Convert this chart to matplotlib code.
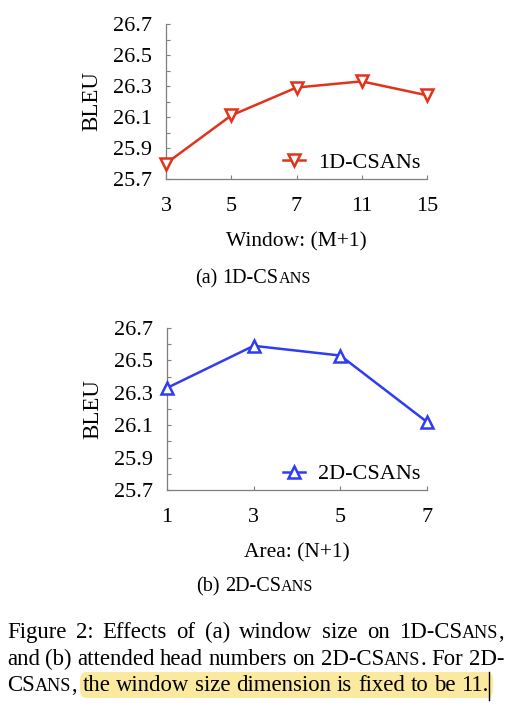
import matplotlib
matplotlib.use("Agg")
import matplotlib.pyplot as plt
from matplotlib.patches import FancyBboxPatch
from matplotlib.lines import Line2D

# ---- data ----
windows = ['3', '5', '7', '11', '15']
bleu_1d = [25.80, 26.11, 26.29, 26.33, 26.24]
areas = ['1', '3', '5', '7']
bleu_2d = [26.33, 26.59, 26.53, 26.12]
yticks = [25.7, 25.9, 26.1, 26.3, 26.5, 26.7]
minor_yticks = [25.8, 26.0, 26.2, 26.4, 26.6]

RED = '#E2321A'
BLUE = '#2E3CF4'
GRAY = '#7f7f7f'
SERIF = 'Liberation Serif'

plt.rcParams['font.family'] = SERIF

W, H = 513, 708
fig = plt.figure(figsize=(W / 100, H / 100), dpi=100)


def fx(px):
    return px / W


def fy(py):
    return 1 - py / H


def make_axes(rect_px, cats, vals, color, marker, label, xlabel):
    l, t, r, b = rect_px
    ax = fig.add_axes([fx(l), fy(b), (r - l) / W, (b - t) / H])
    x = list(range(len(cats)))
    ax.plot(x, vals, color=color, lw=1.8, marker=marker, ms=8.5,
            mfc='white', mec=color, mew=1.8, label=label, clip_on=False, zorder=5)
    ax.set_xlim(0, len(cats) - 1)
    ax.set_ylim(25.7, 26.7)
    ax.set_xticks(x)
    ax.set_xticklabels(cats)
    ax.set_yticks(yticks)
    ax.set_yticklabels([f'{v:.1f}' for v in yticks])
    ax.set_yticks(minor_yticks, minor=True)
    for s in ['top', 'right']:
        ax.spines[s].set_visible(False)
    for s in ['left', 'bottom']:
        ax.spines[s].set_color(GRAY)
        ax.spines[s].set_linewidth(0.9)
    ax.tick_params(axis='both', which='both', direction='in', color=GRAY,
                   width=0.8, labelsize=16)
    ax.tick_params(axis='y', which='major', length=3, pad=10)
    ax.tick_params(axis='y', which='minor', length=3)
    ax.tick_params(axis='x', which='major', length=3, pad=13)
    ax.set_ylabel('BLEU', fontsize=16.5, labelpad=8)
    ax.set_xlabel(xlabel, fontsize=15.5, labelpad=12)
    ax.legend(loc='lower right', frameon=False, fontsize=16, handlelength=1.0,
              handletextpad=0.6, borderaxespad=0.0, bbox_to_anchor=(1.01, -0.02))
    return ax


ax1 = make_axes((166, 24, 427, 179), windows, bleu_1d, RED, 'v', '1D-CSANs',
                'Window: (M+1)')
ax2 = make_axes((167, 328, 427, 490), areas, bleu_2d, BLUE, '^', '2D-CSANs',
                'Area: (N+1)')

renderer = fig.canvas.get_renderer()


def width_of(s, size):
    t = fig.text(0, 0, s, fontsize=size)
    w = t.get_window_extent(renderer).width
    t.remove()
    return w


def draw_word(xpx, ypx, segs, size, draw=True):
    """segs: list of (text, is_small). returns width"""
    x0 = xpx
    for s, small in segs:
        sz = size * 0.8 if small else size
        w = width_of(s, sz)
        if draw:
            fig.text(fx(xpx), fy(ypx), s, fontsize=sz, va='baseline', ha='left')
        xpx += w
    return xpx - x0


def parse(word):
    # text inside {} is drawn as small capitals
    segs = []
    buf = ''
    small = False
    for ch in word:
        if ch in '{}':
            if buf:
                segs.append((buf, small))
            buf = ''
            small = ch == '{'
        else:
            buf += ch
    if buf:
        segs.append((buf, small))
    return segs


def draw_line(text, xl, ybase, size, xr=None, center=False):
    words = [parse(w) for w in text.split(' ')]
    widths = [draw_word(0, 0, w, size, draw=False) for w in words]
    sp = width_of('a a', size) - width_of('aa', size)
    natural = sum(widths) + sp * (len(words) - 1)
    if xr is not None and len(words) > 1:
        sp = sp + (xr - xl - natural) / (len(words) - 1)
    if center:
        xl = xl - natural / 2
    x = xl
    for w, wd in zip(words, widths):
        draw_word(x, ybase, w, size)
        x += wd + sp
    return x - sp


# sub-captions
draw_line('(a) 1D-CS{ANS}', 253, 283, 14.5, center=True)
draw_line('(b) 2D-CS{ANS}', 255, 591, 14.5, center=True)

# highlight
hl = FancyBboxPatch((fx(80), fy(698)), fx(493) - fx(80), fy(672) - fy(698),
                    boxstyle='round,pad=0,rounding_size=0.012',
                    transform=fig.transFigure, facecolor='#FCE9A0',
                    edgecolor='none', zorder=0)
fig.patches.append(hl)
fig.add_artist(Line2D([fx(489), fx(489)], [fy(700), fy(672)], color='black',
                      lw=1.0, transform=fig.transFigure))

# main caption
CAP = 16.4
draw_line('Figure 2: Effects of (a) window size on 1D-CS{ANS},', 7, 638, CAP, xr=504)
draw_line('and (b) attended head numbers on 2D-CS{ANS}. For 2D-', 7, 665, CAP, xr=504)
draw_line('CS{ANS}, the window size dimension is fixed to be 11.', 7, 691, CAP)

fig.savefig('out.png', dpi=100)
